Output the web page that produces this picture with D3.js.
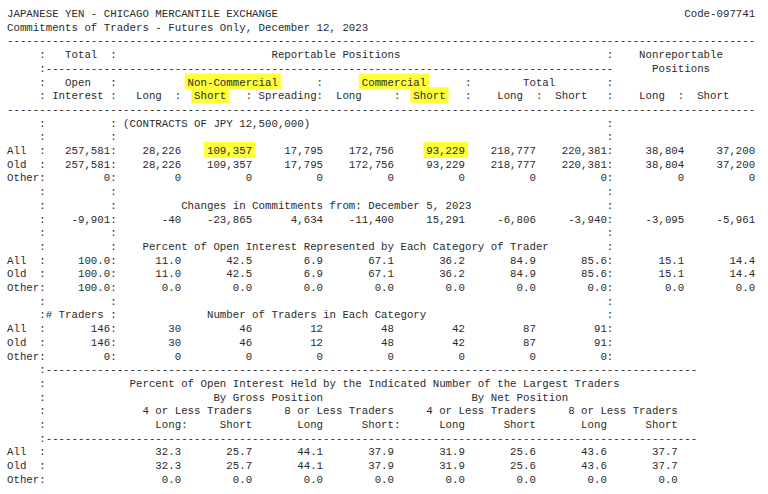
<!DOCTYPE html>
<html>
<head>
<meta charset="utf-8">
<script src="https://cdn.jsdelivr.net/npm/d3@7"></script>
<style>
  body { margin: 0; background: #fff; }
  text { font-family: "Liberation Mono", "DejaVu Sans Mono", monospace; font-size: 11px; fill: #2a2a2a; }
</style>
</head>
<body>
<svg id="chart" width="768" height="494"></svg>
<script>
// report data
const rowNames = ["All", "Old", "Other"];
const openInterest = [257581, 257581, 0];
const nonCommLong = [28226, 28226, 0];
const nonCommShort = [109357, 109357, 0];
const nonCommSpread = [17795, 17795, 0];
const commLong = [172756, 172756, 0];
const commShort = [93229, 93229, 0];
const totalLong = [218777, 218777, 0];
const totalShort = [220381, 220381, 0];
const nonrepLong = [38804, 38804, 0];
const nonrepShort = [37200, 37200, 0];

const changes = [-9901, -40, -23865, 4634, -11400, 15291, -6806, -3940, -3095, -5961];

const pctOI = [
  [100.0, 11.0, 42.5, 6.9, 67.1, 36.2, 84.9, 85.6, 15.1, 14.4],
  [100.0, 11.0, 42.5, 6.9, 67.1, 36.2, 84.9, 85.6, 15.1, 14.4],
  [100.0, 0.0, 0.0, 0.0, 0.0, 0.0, 0.0, 0.0, 0.0, 0.0]
];
const traders = [
  [146, 30, 46, 12, 48, 42, 87, 91],
  [146, 30, 46, 12, 48, 42, 87, 91],
  [0, 0, 0, 0, 0, 0, 0, 0]
];
const concentration = [
  [32.3, 25.7, 44.1, 37.9, 31.9, 25.6, 43.6, 37.7],
  [32.3, 25.7, 44.1, 37.9, 31.9, 25.6, 43.6, 37.7],
  [0.0, 0.0, 0.0, 0.0, 0.0, 0.0, 0.0, 0.0]
];

// layout: character grid
const cw = 6.45;
const nCols = 116, nRows = 35;
const x = d3.scaleLinear().domain([0, nCols]).range([7, 7 + nCols * cw]);
const y = d3.scaleLinear().domain([0, nRows - 1]).range([13, 13 + 13.7 * (nRows - 1)]);

const fmtInt = d3.format(",");
const fmtPct = d3.format(".1f");
const fieldEnds = [15, 26, 37, 48, 59, 70, 81, 92, 104, 115];
const concEnds = [26, 37, 48, 59, 70, 81, 92, 103];

let tokens = [];
function put(row, col, text, hl) { tokens.push({row, col, text, hl: !!hl}); }
function putEnd(row, end, text, hl) { put(row, end - text.length + 1, text, hl); }
function dashes(row, from, to) { put(row, from, "-".repeat(to - from + 1)); }
function colons(row, cols) { cols.forEach(c => put(row, c, ":")); }

// header
put(0, 0, "JAPANESE YEN - CHICAGO MERCANTILE EXCHANGE");
putEnd(0, 115, "Code-097741");
put(1, 0, "Commitments of Traders - Futures Only, December 12, 2023");
dashes(2, 0, 115);
colons(3, [5, 16, 93]);
put(3, 9, "Total"); put(3, 41, "Reportable Positions"); put(3, 98, "Nonreportable");
put(4, 5, ":"); dashes(4, 6, 93); put(4, 100, "Positions");
colons(5, [5, 16, 48, 71, 93]);
put(5, 9, "Open"); put(5, 28, "Non-Commercial", true); put(5, 55, "Commercial", true); put(5, 80, "Total");
colons(6, [5, 16, 26, 37, 60, 71, 82, 93, 104]);
put(6, 7, "Interest"); put(6, 20, "Long"); put(6, 29, "Short", true); put(6, 39, "Spreading:");
put(6, 51, "Long"); put(6, 63, "Short", true); put(6, 76, "Long"); put(6, 85, "Short");
put(6, 98, "Long"); put(6, 107, "Short");
dashes(7, 0, 115);

// positions
colons(8, [5, 16, 93]); put(8, 18, "(CONTRACTS OF JPY 12,500,000)");
colons(9, [5, 16, 93]);
const posSeries = [openInterest, nonCommLong, nonCommShort, nonCommSpread, commLong, commShort,
                   totalLong, totalShort, nonrepLong, nonrepShort];
rowNames.forEach((name, i) => {
  const r = 10 + i;
  put(r, 0, name); put(r, 5, ":");
  posSeries.forEach((s, k) => putEnd(r, fieldEnds[k], fmtInt(s[i]), i === 0 && (k === 2 || k === 5)));
  colons(r, [16, 93]);
});

// changes
colons(13, [5, 16, 93]);
colons(14, [5, 16, 93]); put(14, 27, "Changes in Commitments from: December 5, 2023");
put(15, 5, ":");
changes.forEach((v, k) => putEnd(15, fieldEnds[k], fmtInt(v).replace("−", "-")));
colons(15, [16, 93]);

// percent of OI
colons(16, [5, 16, 93]);
colons(17, [5, 16, 93]); put(17, 21, "Percent of Open Interest Represented by Each Category of Trader");
rowNames.forEach((name, i) => {
  const r = 18 + i;
  put(r, 0, name); put(r, 5, ":");
  pctOI[i].forEach((v, k) => putEnd(r, fieldEnds[k], fmtPct(v)));
  colons(r, [16, 93]);
});

// traders
colons(21, [5, 16, 93]);
put(22, 5, ":# Traders"); colons(22, [16, 93]); put(22, 31, "Number of Traders in Each Category");
rowNames.forEach((name, i) => {
  const r = 23 + i;
  put(r, 0, name); put(r, 5, ":");
  traders[i].forEach((v, k) => putEnd(r, fieldEnds[k], fmtInt(v)));
  colons(r, [16, 93]);
});

// concentration
put(26, 5, ":"); dashes(26, 6, 106);
put(27, 5, ":"); put(27, 19, "Percent of Open Interest Held by the Indicated Number of the Largest Traders");
put(28, 5, ":"); put(28, 32, "By Gross Position"); put(28, 72, "By Net Position");
put(29, 5, ":");
[21, 43, 65, 87].forEach(c => put(29, c, "4 or Less Traders".replace("4", c === 43 || c === 87 ? "8" : "4")));
put(30, 5, ":");
[["Long:", 23], ["Short", 33], ["Long", 45], ["Short:", 55], ["Long", 67], ["Short", 77], ["Long", 89], ["Short", 99]]
  .forEach(([t, c]) => put(30, c, t));
put(31, 5, ":"); dashes(31, 6, 106);
rowNames.forEach((name, i) => {
  const r = 32 + i;
  put(r, 0, name); put(r, 5, ":");
  concentration[i].forEach((v, k) => putEnd(r, concEnds[k], fmtPct(v)));
});

// draw
const svg = d3.select("#chart");
svg.append("g").selectAll("rect")
  .data(tokens.filter(d => d.hl))
  .join("rect")
  .attr("x", d => x(d.col) - 3)
  .attr("y", d => y(d.row) - 8)
  .attr("width", d => x(d.col + d.text.length) - x(d.col) + 6)
  .attr("height", 16)
  .attr("fill", "#ffff3a");

svg.append("g").selectAll("text")
  .data(tokens)
  .join("text")
  .attr("x", d => x(d.col))
  .attr("y", d => y(d.row) + 4)
  .attr("textLength", d => d.text.length * cw)
  .attr("lengthAdjust", "spacingAndGlyphs")
  .attr("xml:space", "preserve")
  .text(d => d.text);
</script>
</body>
</html>
